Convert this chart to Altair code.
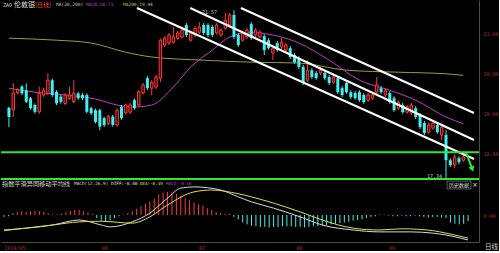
import altair as alt
import pandas as pd

CJK = "Noto Sans CJK SC"
MONO = "DejaVu Sans Mono"
RED = "#ff3a3a"
CYAN = "#40f0f0"
MAGENTA = "#c23cc2"
OLIVE = "#9c9c3c"
GREEN = "#2ee82e"
AXIS_RED = "#b03030"

# ---- daily candles, 2014/05 .. 2014/09 ----
opens = [19.13, 19.08, 19.50, 19.66, 19.57, 19.37, 19.20, 19.03, 19.45, 19.49,
         19.82, 19.53, 19.41, 19.24, 19.37, 19.28, 19.49, 19.45, 19.45, 19.12,
         19.07, 19.07, 18.87, 18.74, 18.91, 18.70, 19.16, 19.00, 19.02, 19.32,
         19.20, 19.50, 19.87, 19.62, 19.65, 19.87, 20.70, 20.75, 20.77, 20.87,
         20.90, 21.20, 20.82, 20.95, 21.02, 21.20, 21.20, 21.15, 21.00, 20.95,
         21.12, 21.20, 21.45, 20.95, 20.82, 20.90, 21.22, 20.95, 20.90, 20.92,
         20.82, 20.50, 20.75, 20.65, 20.57, 20.62, 20.45, 20.37, 20.15, 19.82,
         20.07, 20.00, 20.00, 20.00, 19.90, 19.77, 19.87, 19.62, 19.75, 19.52,
         19.50, 19.52, 19.45, 19.32, 19.37, 19.52, 19.62, 19.45, 19.50, 19.37,
         19.12, 19.20, 19.02, 19.00, 19.12, 18.95, 18.75, 18.52, 18.62, 18.70,
         18.45, 18.45, 17.82, 17.70, 17.87, 17.82]
highs = [19.15, 19.75, 19.62, 19.70, 19.74, 19.40, 19.24, 19.66, 19.63, 19.99,
         19.86, 19.57, 19.45, 19.49, 19.66, 19.82, 19.53, 19.50, 19.49, 19.16,
         19.11, 19.11, 18.91, 18.95, 18.95, 19.11, 19.20, 19.24, 19.26, 19.36,
         19.57, 19.75, 19.92, 19.82, 19.95, 20.86, 20.92, 21.00, 21.15, 21.05,
         21.12, 21.25, 21.05, 21.17, 21.27, 21.25, 21.24, 21.20, 21.25, 21.12,
         21.50, 21.50, 21.57, 21.00, 21.05, 21.12, 21.27, 21.12, 21.07, 20.97,
         20.87, 20.67, 20.80, 20.87, 20.75, 20.67, 20.50, 20.42, 20.20, 20.32,
         20.12, 20.05, 20.15, 20.05, 19.95, 19.95, 19.92, 19.67, 19.80, 19.57,
         19.55, 19.57, 19.50, 19.50, 19.50, 19.90, 19.67, 19.62, 19.55, 19.42,
         19.32, 19.25, 19.20, 19.25, 19.17, 19.00, 18.80, 18.75, 18.80, 18.75,
         18.70, 18.57, 17.87, 17.97, 17.92, 17.95]
lows = [18.65, 18.90, 19.47, 19.45, 19.25, 19.08, 18.99, 18.98, 19.40, 19.45,
        19.40, 19.20, 19.23, 19.20, 19.33, 19.24, 19.33, 19.32, 18.99, 18.95,
        18.74, 18.57, 18.65, 18.70, 18.66, 18.66, 18.83, 18.96, 18.98, 19.08,
        19.16, 19.46, 19.58, 19.45, 19.60, 19.77, 20.65, 20.70, 20.73, 20.83,
        20.86, 20.90, 20.78, 20.90, 20.98, 20.95, 20.90, 20.90, 20.96, 20.90,
        21.08, 21.15, 20.85, 20.65, 20.78, 20.85, 20.83, 20.90, 20.86, 20.45,
        20.58, 20.32, 20.53, 20.60, 20.53, 20.35, 20.23, 20.10, 19.70, 19.78,
        19.85, 19.83, 19.95, 19.82, 19.70, 19.73, 19.48, 19.40, 19.48, 19.35,
        19.33, 19.28, 19.23, 19.28, 19.33, 19.48, 19.48, 19.40, 19.23, 19.03,
        19.08, 18.98, 18.98, 18.95, 18.85, 18.60, 18.45, 18.48, 18.58, 18.48,
        18.32, 17.34, 17.65, 17.62, 17.72, 17.78]
closes = [18.90, 19.50, 19.58, 19.49, 19.28, 19.12, 19.03, 19.49, 19.57, 19.82,
          19.45, 19.24, 19.28, 19.45, 19.45, 19.49, 19.37, 19.37, 19.03, 18.99,
          18.78, 18.66, 18.70, 18.91, 18.70, 19.07, 18.87, 19.20, 19.20, 19.12,
          19.53, 19.70, 19.62, 19.77, 19.90, 20.82, 20.87, 20.95, 20.90, 21.00,
          21.07, 20.95, 21.00, 21.12, 21.15, 21.00, 20.95, 20.95, 21.20, 21.07,
          21.32, 21.45, 20.90, 20.70, 21.00, 21.07, 20.87, 21.07, 21.02, 20.57,
          20.62, 20.62, 20.57, 20.77, 20.70, 20.40, 20.27, 20.15, 19.75, 20.07,
          19.90, 19.87, 20.07, 19.87, 19.75, 19.90, 19.52, 19.45, 19.52, 19.40,
          19.37, 19.32, 19.27, 19.45, 19.45, 19.70, 19.52, 19.57, 19.27, 19.07,
          19.27, 19.02, 19.15, 19.20, 18.90, 18.65, 18.50, 18.70, 18.75, 18.52,
          18.65, 17.82, 17.70, 17.90, 17.77, 17.90]

# moving averages (sampled along the series)
ma20_idx = [0, 6, 13, 20, 25, 29, 33, 38, 42, 47, 51, 56, 58, 67, 74, 81, 88, 94, 101, 105]
ma20_val = [19.62, 19.52, 19.45, 19.35, 19.20, 19.15, 19.20, 19.65, 20.15, 20.57,
            20.90, 21.02, 21.00, 20.75, 20.32, 19.82, 19.57, 19.32, 18.90, 18.73]
ma200_idx = [0, 11, 19, 27, 33, 45, 56, 67, 78, 90, 101, 105]
ma200_val = [20.87, 20.82, 20.75, 20.52, 20.40, 20.32, 20.27, 20.25, 20.07, 20.02, 19.98, 19.94]

# MACD(12,26,9)
macd_hist = [-0.03, -0.02, 0.03, 0.05, 0.06, 0.05, 0.06, 0.07, 0.06, 0.05,
             0.03, 0.01, 0.01, 0.02, 0.05, 0.07, 0.08, 0.08, 0.06, 0.04,
             0.02, -0.05, -0.09, -0.11, -0.08, -0.05, -0.02, 0.01, 0.03, 0.06,
             0.10, 0.14, 0.18, 0.22, 0.26, 0.33, 0.36, 0.37, 0.36, 0.34,
             0.31, 0.27, 0.24, 0.20, 0.17, 0.15, 0.11, 0.08, 0.05, 0.03,
             0.02, 0.02, -0.03, -0.07, -0.12, -0.15, -0.17, -0.18, -0.19, -0.19,
             -0.20, -0.19, -0.19, -0.18, -0.18, -0.18, -0.19, -0.19, -0.20, -0.19,
             -0.18, -0.18, -0.17, -0.16, -0.15, -0.14, -0.13, -0.12, -0.11, -0.09,
             -0.08, -0.07, -0.05, -0.03, -0.02, 0.01, 0.01, -0.01, -0.02, -0.02,
             -0.01, -0.02, -0.02, -0.01, -0.02, -0.03, -0.04, -0.03, -0.03, -0.04,
             -0.05, -0.12, -0.14, -0.15, -0.14, -0.10]
diff_idx = [0, 11, 17, 22, 24, 29, 33, 37, 40, 43, 49, 53, 56, 61, 67, 72, 79, 85, 92, 97, 100, 105]
diff_val = [-0.24, -0.16, -0.08, -0.16, -0.19, -0.11, 0.03, 0.27, 0.43, 0.45, 0.40,
            0.29, 0.21, 0.11, -0.03, -0.16, -0.24, -0.27, -0.27, -0.29, -0.32, -0.40]
dea_idx = [0, 11, 17, 22, 29, 33, 37, 43, 47, 53, 56, 61, 67, 72, 79, 85, 90, 97, 100, 105]
dea_val = [-0.25, -0.16, -0.11, -0.10, -0.13, -0.03, 0.16, 0.37, 0.40, 0.34, 0.29,
           0.19, 0.05, -0.08, -0.21, -0.24, -0.22, -0.25, -0.29, -0.37]

# drawn channel lines (bar index, price) and support levels
trend_id = ["a", "a", "b", "b", "c", "c"]
trend_i = [29.6, 107.47, 41.9, 107.47, 53.6, 107.47]
trend_p = [21.625, 17.85, 21.625, 18.325, 21.625, 19.0]
support_levels = [18.02, 17.35]
arrow_i = [105.6, 107.0]
arrow_p = [18.02, 17.62]

month_idx = [0, 22, 44, 66, 87]
month_txt = ["2014/05", "06", "07", "08", "09"]

price_ticks = [18, 19, 20, 21]
hi_lo_idx = [52, 101]
hi_lo_val = [21.57, 17.34]

# ---------------------------------------------------------------------------
n = len(opens)
candles = pd.DataFrame({"i": list(range(n)), "open": opens, "high": highs,
                        "low": lows, "close": closes})
candles["dir"] = ["up" if c >= o else "down" for o, c in zip(opens, closes)]

W = 478
x_scale = alt.Scale(domain=[-0.68, 107.47], nice=False, zero=False)
p_scale = alt.Scale(domain=[17.325, 21.825], nice=False, zero=False)
m_scale = alt.Scale(domain=[-0.432, 0.56], nice=False, zero=False)
dir_color = alt.Scale(domain=["up", "down"], range=[RED, CYAN])

p_axis = alt.Axis(orient="right", values=price_ticks, format=".2f", title=None,
                  grid=False, ticks=False, domainColor="#4a4a4a", labelColor=AXIS_RED,
                  labelFont=MONO, labelFontSize=5, labelPadding=4)


def X(field="i:Q"):
    return alt.X(field, scale=x_scale, axis=None)


def PY(field, **kw):
    return alt.Y(field, scale=p_scale, axis=p_axis, **kw)


def label(text, px, py, color, size=6.4, font=CJK, align="left"):
    return alt.Chart(pd.DataFrame({"t": [text]})).mark_text(
        align=align, baseline="middle", fontSize=size, font=font, color=color
    ).encode(x=alt.value(px), y=alt.value(py), text="t:N")


base = alt.Chart(candles)

wicks = base.mark_rule(strokeWidth=1).encode(
    x=X(), y=PY("low:Q"), y2="high:Q",
    color=alt.Color("dir:N", scale=dir_color, legend=None))
down_bodies = base.transform_filter("datum.dir == 'down'").mark_bar(
    size=3, color=CYAN).encode(x=X(), y=PY("open:Q"), y2="close:Q")
up_bodies = base.transform_filter("datum.dir == 'up'").mark_bar(
    size=2.4, fill="#3a0000", stroke=RED, strokeWidth=1).encode(
    x=X(), y=PY("open:Q"), y2="close:Q")

ma200 = alt.Chart(pd.DataFrame({"i": ma200_idx, "v": ma200_val})).mark_line(
    color=OLIVE, strokeWidth=1, interpolate="monotone").encode(x=X(), y=PY("v:Q"))
ma20 = alt.Chart(pd.DataFrame({"i": ma20_idx, "v": ma20_val})).mark_line(
    color=MAGENTA, strokeWidth=1, interpolate="monotone").encode(x=X(), y=PY("v:Q"))

trends = alt.Chart(pd.DataFrame({"id": trend_id, "i": trend_i, "p": trend_p})).mark_line(
    color="#ffffff", strokeWidth=2, clip=True).encode(x=X(), y=PY("p:Q"), detail="id:N")

supports = alt.Chart(pd.DataFrame({"p": support_levels})).mark_rule(
    color=GREEN, strokeWidth=2).encode(y=PY("p:Q"))

arrow_df = pd.DataFrame({"i": arrow_i, "p": arrow_p})
arrow_line = alt.Chart(arrow_df).mark_line(color=GREEN, strokeWidth=2).encode(
    x=X(), y=PY("p:Q"))
arrow_head = alt.Chart(arrow_df.tail(1)).mark_point(
    shape="triangle", filled=True, color=GREEN, size=40, angle=160, opacity=1).encode(
    x=X(), y=PY("p:Q"))

hl = pd.DataFrame({"i": hi_lo_idx, "v": hi_lo_val,
                   "t": [f"{v:.2f}" for v in hi_lo_val]})
hi_text = alt.Chart(hl.head(1)).mark_text(
    align="right", baseline="middle", dx=-17, dy=2, fontSize=5, font=MONO,
    color="#c8c8c8").encode(x=X(), y=PY("v:Q"), text="t:N")
lo_text = alt.Chart(hl.tail(1)).mark_text(
    align="right", baseline="middle", dx=-4, dy=-3, fontSize=5, font=MONO,
    color="#c8c8c8").encode(x=X(), y=PY("v:Q"), text="t:N")

top = alt.layer(
    ma200, ma20, wicks, down_bodies, up_bodies, trends, supports,
    arrow_line, arrow_head, hi_text, lo_text,
    label("ZAO", 2, 5, "#d8d8d8", size=5, font=MONO),
    label("伦敦银", 13, 5, "#d8d8d8", size=7),
    label("[日线]", 34, 5, "#ff4040", size=6),
    label("MA(20,200)", 55, 5, "#c8c8c8", size=4.5, font=MONO),
    label("MA20:18.73", 85, 5, MAGENTA, size=4.5, font=MONO),
    label("MA200:19.94", 122, 5, "#c8c848", size=4.5, font=MONO),
).properties(width=W, height=180)

# ---- MACD panel ----
hist_df = pd.DataFrame({"i": list(range(n)), "h": macd_hist})
hist_df["dir"] = ["up" if h >= 0 else "down" for h in macd_hist]

month_expr = " : ".join(
    f"datum.value == {k} ? '{t}'" for k, t in zip(month_idx, month_txt)) + " : ''"
x_axis = alt.Axis(values=month_idx, labelExpr=month_expr, title=None, grid=False,
                  ticks=False, domainColor="#4a4a4a", labelColor=AXIS_RED,
                  labelFont=MONO, labelFontSize=5, labelAlign="left",
                  labelPadding=3, labelOverlap=False, labelFlush=False)
m_axis = alt.Axis(orient="right", values=[0], format=".2f", title=None, grid=False,
                  ticks=False, domainColor="#4a4a4a", labelColor=AXIS_RED,
                  labelFont=MONO, labelFontSize=5, labelPadding=4)


def MY(field, **kw):
    return alt.Y(field, scale=m_scale, axis=m_axis, **kw)


def MX(field="i:Q"):
    return alt.X(field, scale=x_scale, axis=x_axis)


hist = alt.Chart(hist_df).mark_rule(strokeWidth=1).encode(
    x=MX(), y=MY("h:Q"), y2=alt.datum(0),
    color=alt.Color("dir:N", scale=dir_color, legend=None))
diff_line = alt.Chart(pd.DataFrame({"i": diff_idx, "v": diff_val})).mark_line(
    color="#d8d8e8", strokeWidth=1, interpolate="monotone").encode(x=MX(), y=MY("v:Q"))
dea_line = alt.Chart(pd.DataFrame({"i": dea_idx, "v": dea_val})).mark_line(
    color="#e0e040", strokeWidth=1, interpolate="monotone").encode(x=MX(), y=MY("v:Q"))

button = alt.Chart(pd.DataFrame({"t": ["历史数据"]})).mark_rect(
    fill="#101010", stroke="#8a8a8a", strokeWidth=0.6).encode(
    x=alt.value(446), x2=alt.value(470), y=alt.value(1), y2=alt.value(9))

bottom = alt.layer(
    hist, diff_line, dea_line, button,
    label("指数平滑异同移动平均线", 1, 4, "#d8d8d8", size=6.2),
    label("MACD(12,26,9)", 73, 4, "#d8d8d8", size=4.4, font=MONO),
    label("DIFF:-0.40", 110, 4, "#e8e8e8", size=4.4, font=MONO),
    label("DEA:-0.39", 139, 4, "#e0e040", size=4.2, font=MONO),
    label("MACD:-0.10", 165, 4, MAGENTA, size=4.2, font=MONO),
    label("历史数据", 448, 5, "#d0d0d0", size=5),
    label("×", 474, 5, "#e0e0e0", size=7, font="DejaVu Sans", align="center"),
    label("日线", 484, 67, "#d8d8d8", size=6.5),
).properties(width=W, height=62)

chart = alt.vconcat(top, bottom, spacing=0).resolve_scale(
    y="independent", color="independent"
).properties(
    background="#000000", padding=0
).configure_view(strokeWidth=0)

chart.save("out.html", embed_options={"renderer": "svg", "actions": False})
